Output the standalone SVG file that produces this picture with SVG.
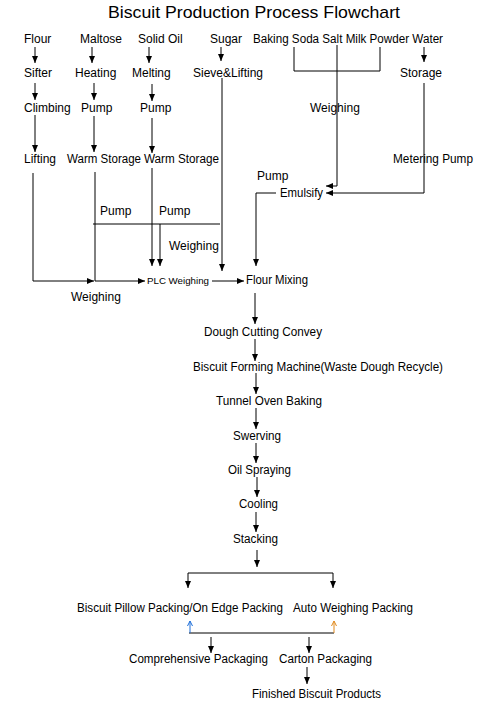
<svg xmlns="http://www.w3.org/2000/svg" width="486" height="708" viewBox="0 0 486 708">
<defs>
<marker id="ah" markerUnits="userSpaceOnUse" markerWidth="8" markerHeight="8" viewBox="0 0 8 8" refX="7" refY="4" orient="auto">
<path d="M0,1 L7,4 L0,7 Z" fill="#000"/>
</marker>
<marker id="ahs" markerUnits="userSpaceOnUse" markerWidth="6" markerHeight="6" viewBox="0 0 6 6" refX="5" refY="3" orient="auto">
<path d="M0,0.5 L5,3 L0,5.5" fill="none" stroke="context-stroke" stroke-width="1"/>
</marker>
</defs>
<style>
text{font-family:"Liberation Sans",Arial,sans-serif;font-size:12px;fill:#000}
.t{font-size:17px}
.s{font-size:9px}
.c path{fill:none;stroke:#000;stroke-width:1}
.c .a{marker-end:url(#ah)}
</style>
<rect width="486" height="708" fill="#fff"/>
<g id="title"><text class="t" x="108" y="18" textLength="292" lengthAdjust="spacingAndGlyphs">Biscuit Production Process Flowchart</text></g>
<g id="n-flour"><text x="24" y="43">Flour</text></g>
<g id="n-maltose"><text x="80" y="43">Maltose</text></g>
<g id="n-solidoil"><text x="138" y="43">Solid Oil</text></g>
<g id="n-sugar"><text x="210" y="43">Sugar</text></g>
<g id="n-ingredients"><text x="253" y="43" textLength="190" lengthAdjust="spacingAndGlyphs">Baking Soda Salt Milk Powder Water</text></g>
<g id="n-sifter"><text x="24" y="77">Sifter</text></g>
<g id="n-heating"><text x="75" y="77">Heating</text></g>
<g id="n-melting"><text x="132" y="77">Melting</text></g>
<g id="n-sieve"><text x="193" y="77" textLength="70" lengthAdjust="spacingAndGlyphs">Sieve&amp;Lifting</text></g>
<g id="n-storage"><text x="400" y="77">Storage</text></g>
<g id="n-climbing"><text x="24" y="112">Climbing</text></g>
<g id="n-pump1"><text x="81" y="112">Pump</text></g>
<g id="n-pump2"><text x="140" y="112">Pump</text></g>
<g id="n-weighing1"><text x="310" y="112">Weighing</text></g>
<g id="n-lifting"><text x="24" y="163">Lifting</text></g>
<g id="n-warm1"><text x="67" y="163" textLength="74" lengthAdjust="spacingAndGlyphs">Warm Storage</text></g>
<g id="n-warm2"><text x="144" y="163" textLength="75" lengthAdjust="spacingAndGlyphs">Warm Storage</text></g>
<g id="n-metering"><text x="393" y="163" textLength="80" lengthAdjust="spacingAndGlyphs">Metering Pump</text></g>
<g id="n-pump3"><text x="257" y="180">Pump</text></g>
<g id="n-emulsify"><text x="280" y="197" textLength="43" lengthAdjust="spacingAndGlyphs">Emulsify</text></g>
<g id="n-pump4"><text x="100" y="215">Pump</text></g>
<g id="n-pump5"><text x="159" y="215">Pump</text></g>
<g id="n-weighing2"><text x="169" y="250">Weighing</text></g>
<g id="n-plc"><text class="s" x="147" y="284" textLength="62" lengthAdjust="spacingAndGlyphs">PLC Weighing</text></g>
<g id="n-flourmixing"><text x="246" y="284" textLength="62" lengthAdjust="spacingAndGlyphs">Flour Mixing</text></g>
<g id="n-weighing3"><text x="71" y="301">Weighing</text></g>
<g id="n-dough"><text x="204" y="336" textLength="118" lengthAdjust="spacingAndGlyphs">Dough Cutting Convey</text></g>
<g id="n-forming"><text x="193" y="371" textLength="250" lengthAdjust="spacingAndGlyphs">Biscuit Forming Machine(Waste Dough Recycle)</text></g>
<g id="n-oven"><text x="216" y="405" textLength="106" lengthAdjust="spacingAndGlyphs">Tunnel Oven Baking</text></g>
<g id="n-swerving"><text x="233" y="440" textLength="48" lengthAdjust="spacingAndGlyphs">Swerving</text></g>
<g id="n-oil"><text x="228" y="474" textLength="63" lengthAdjust="spacingAndGlyphs">Oil Spraying</text></g>
<g id="n-cooling"><text x="239" y="508" textLength="39" lengthAdjust="spacingAndGlyphs">Cooling</text></g>
<g id="n-stacking"><text x="233" y="543" textLength="45" lengthAdjust="spacingAndGlyphs">Stacking</text></g>
<g id="n-pillow"><text x="77" y="612" textLength="206" lengthAdjust="spacingAndGlyphs">Biscuit Pillow Packing/On Edge Packing</text></g>
<g id="n-auto"><text x="293" y="612" textLength="120" lengthAdjust="spacingAndGlyphs">Auto Weighing Packing</text></g>
<g id="n-comprehensive"><text x="129" y="663" textLength="139" lengthAdjust="spacingAndGlyphs">Comprehensive Packaging</text></g>
<g id="n-carton"><text x="279" y="663" textLength="93" lengthAdjust="spacingAndGlyphs">Carton Packaging</text></g>
<g id="n-finished"><text x="252" y="698" textLength="129" lengthAdjust="spacingAndGlyphs">Finished Biscuit Products</text></g>
<g id="connectors" class="c">
<path class="a" d="M35,47 V63"/>
<path class="a" d="M92,47 V63"/>
<path class="a" d="M149,47 V63"/>
<path class="a" d="M221,47 V61"/>
<path class="a" d="M424,47 V62"/>
<path class="a" d="M35,83 V100"/>
<path class="a" d="M94,83 V100"/>
<path class="a" d="M152,84 V101"/>
<path class="a" d="M35,115 V152"/>
<path class="a" d="M94,116 V152"/>
<path class="a" d="M152,118 V153"/>
<path d="M294,47 V71 H380 V47"/>
<path class="a" d="M337,45 V186 H326"/>
<path class="a" d="M424,83 V193 H326"/>
<path class="a" d="M276,193 H256 V266"/>
<path class="a" d="M33,173 V281 H94"/>
<path class="a" d="M95,172 V281 H145"/>
<path d="M93,224 H220"/>
<path class="a" d="M152,168 V266"/>
<path class="a" d="M160,224 V266"/>
<path class="a" d="M222,78 V271"/>
<path class="a" d="M212,281 H244"/>
<path class="a" d="M255,293 V324"/>
<path class="a" d="M255,339 V361"/>
<path class="a" d="M256,373 V394"/>
<path class="a" d="M256,408 V429"/>
<path class="a" d="M256,443 V463"/>
<path class="a" d="M257,477 V497"/>
<path class="a" d="M256,512 V532"/>
<path class="a" d="M257,550 V567"/>
<path d="M188,573 H333"/>
<path class="a" d="M188,573 V588"/>
<path class="a" d="M333,573 V588"/>
<path d="M189,633 H334"/>
<path d="M190,633 V621" style="stroke:#1e6fd9;marker-end:url(#ahs)"/>
<path d="M334,633 V621" style="stroke:#e08a1e;marker-end:url(#ahs)"/>
<path class="a" d="M211,637 V653"/>
<path class="a" d="M309,637 V653"/>
<path class="a" d="M307,667 V684"/>
</g>
</svg>
